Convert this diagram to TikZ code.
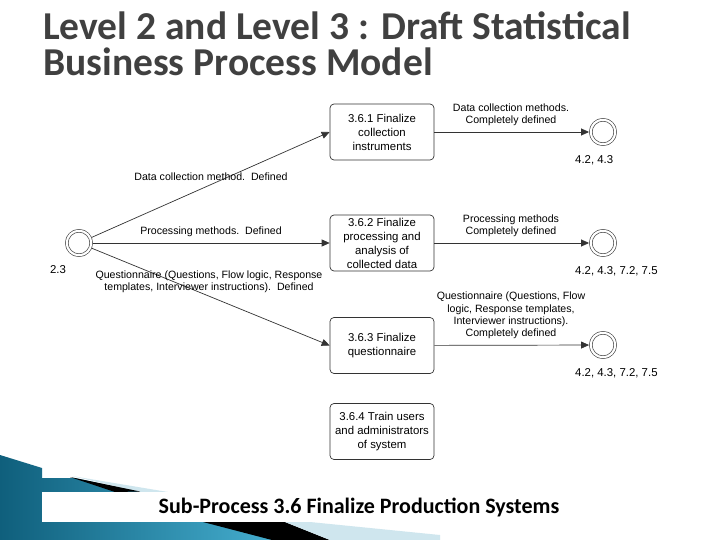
\documentclass[tikz,border=0pt]{standalone}
\usepackage{fontspec}
\setmainfont{Liberation Sans}
\newfontfamily\titlefont{Carlito}
\usetikzlibrary{arrows.meta}
\definecolor{titlegray}{HTML}{404040}
\definecolor{tealdark}{HTML}{0F5F7C}
\definecolor{teallight}{HTML}{45AECF}
\definecolor{paleblue}{HTML}{CFE6EE}
\definecolor{linegray}{HTML}{333333}
\begin{document}
\begin{tikzpicture}[x=1pt,y=-1pt,
  task/.style={draw=linegray, line width=0.7pt, rounded corners=4pt,
    minimum width=104pt, minimum height=56pt, align=center, inner sep=0pt,
    font=\fontsize{11.4}{14}\selectfont},
  evt/.style={circle, draw=linegray, line width=0.6pt, double, double distance=2.2pt,
    minimum size=24.5pt, inner sep=0pt, outer sep=1.7pt},
  flow/.style={draw=linegray, line width=0.7pt, -{Triangle[length=8pt,width=7pt]}},
  lbl/.style={align=center, inner sep=0pt, font=\fontsize{10.6}{12.2}\selectfont},
  num/.style={inner sep=0pt, font=\fontsize{11.4}{13}\selectfont},
  titletext/.style={anchor=base west, inner sep=0pt, text=titlegray,
    font=\titlefont\bfseries\fontsize{39.5}{44}\selectfont}
]
\useasboundingbox (0,0) rectangle (720,540);
\fill[white] (0,0) rectangle (720,540);

% title
\node[titletext] (title1) at (43,40) {Level 2 and Level 3 : Draft Statistical};
\node[titletext] (title2) at (43,76) {Business Process Model};

% bottom decoration
\shade[left color=tealdark, right color=teallight]
  (0,455) -- (42,468) -- (42,478) -- (75,478) -- (140,492) -- (140,522)
  -- (205,522) -- (275,540) -- (0,540) -- cycle;
\fill[paleblue] (72,476) -- (168,492) -- (140,492) -- cycle;
\fill[black] (70,477) -- (140,491.5) -- (115,492) -- cycle;
\fill[black] (203,522) -- (285,522) -- (330,540) -- (272,540) -- cycle;
\fill[paleblue] (285,522) -- (310,522) -- (440,535) -- (440,540) -- (330,540) -- cycle;
\fill[white] (42,492) rectangle (720,522);
\node[inner sep=0pt, font=\titlefont\bfseries\fontsize{22}{26}\selectfont] (subtitle) at (359,507)
  {Sub-Process 3.6 Finalize Production Systems};

% events
\node[evt] (start) at (79,243) {};
\node[num, anchor=north] (startlbl) at (58,265) {2.3};
\node[evt] (e1) at (603,132) {};
\node[evt] (e2) at (603,243) {};
\node[evt] (e3) at (603,345) {};
\node[num, anchor=north west] (e1lbl) at (575,155) {4.2, 4.3};
\node[num, anchor=north west] (e2lbl) at (575,266) {4.2, 4.3, 7.2, 7.5};
\node[num, anchor=north west] (e3lbl) at (575,368) {4.2, 4.3, 7.2, 7.5};

% tasks
\node[task] (t1) at (382,132) {3.6.1 Finalize\\collection\\instruments};
\node[task] (t2) at (382,243) {3.6.2 Finalize\\processing and\\analysis of\\collected data};
\node[task] (t3) at (382,345.5) {3.6.3 Finalize\\questionnaire};
\node[task] (t4) at (382,431.5) {3.6.4 Train users\\and administrators\\of system};

% flows
\draw[flow] (start) -- (t1.west);
\draw[flow] (start) -- (t2.west);
\draw[flow] (start) -- (t3.west);
\draw[flow] (t1) -- (e1);
\draw[flow] (t2) -- (e2);
\draw[flow] (t3) -- (e3);

% flow labels
\node[lbl] (l1) at (211,177) {Data collection method.\ \ Defined};
\node[lbl] (l2) at (211,232) {Processing methods.\ \ Defined};
\node[lbl] (l3) at (209,281.5) {Questionnaire (Questions, Flow logic, Response\\templates, Interviewer instructions).\ \ Defined};
\node[lbl] (r1) at (511,115) {Data collection methods.\\Completely defined};
\node[lbl] (r2) at (511,226) {Processing methods\\Completely defined};
\node[lbl] (r3) at (511,315.5) {Questionnaire (Questions, Flow\\logic, Response templates,\\Interviewer instructions).\\Completely defined};
\end{tikzpicture}
\end{document}
